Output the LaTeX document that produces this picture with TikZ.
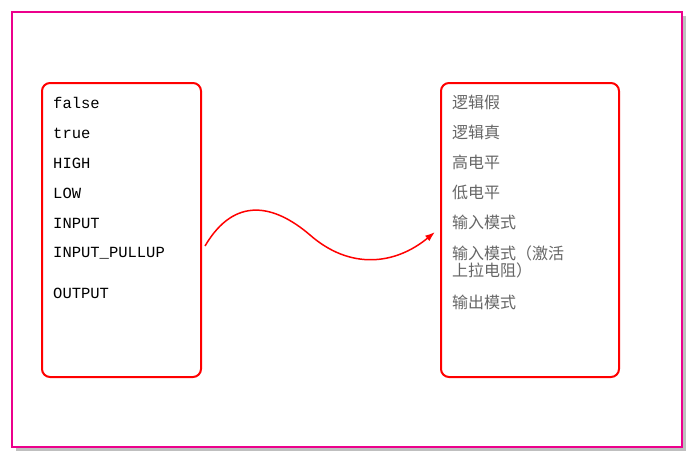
\documentclass[tikz,border=0pt]{standalone}
\usepackage{fontspec}
\usetikzlibrary{arrows.meta}
\setmonofont{Liberation Mono}
\newfontfamily\cjk{Noto Sans CJK SC}
\begin{document}
\begin{tikzpicture}[x=1pt,y=-1pt,
  box/.style={draw=red,line width=2pt,rounded corners=8pt},
  lt/.style={anchor=west,font=\ttfamily\fontsize{15.5}{16}\selectfont,inner sep=0pt},
  rt/.style={anchor=west,font=\cjk\fontsize{16}{17}\selectfont,text=black!60,inner sep=0pt,align=left}]
\useasboundingbox (0,0) rectangle (693,460);
\fill[gray!50] (16,16) rectangle (686,451);
\draw[magenta,line width=2pt,fill=white] (12,12) rectangle (682,447);
\node[box,minimum width=159pt,minimum height=294pt,anchor=north west] (L) at (41,82) {};
\node[box,minimum width=178pt,minimum height=294pt,anchor=north west] (R) at (440,82) {};
\node[lt] (a1) at (53,103) {false};
\node[lt] (a2) at (53,133) {true};
\node[lt] (a3) at (53,163) {HIGH};
\node[lt] (a4) at (53,193) {LOW};
\node[lt] (a5) at (53,223) {INPUT};
\node[lt] (a6) at (53,253) {INPUT\_PULLUP};
\node[lt] (a7) at (53,293) {OUTPUT};
\node[rt] (b1) at (452,102) {逻辑假};
\node[rt] (b2) at (452,132) {逻辑真};
\node[rt] (b3) at (452,162) {高电平};
\node[rt] (b4) at (452,192) {低电平};
\node[rt] (b5) at (452,222) {输入模式};
\node[rt] (b6) at (452,262) {输入模式（激活\\上拉电阻）};
\node[rt] (b7) at (452,302) {输出模式};
\coordinate (s) at (205,246);
\coordinate (e) at (435,232);
\draw[red,line width=1.5pt,-{Latex[length=10pt,width=7pt]}] (s) .. controls (235,195) and (275,205) .. (310,235) .. controls (350,270) and (395,265) .. (e);
\end{tikzpicture}
\end{document}
